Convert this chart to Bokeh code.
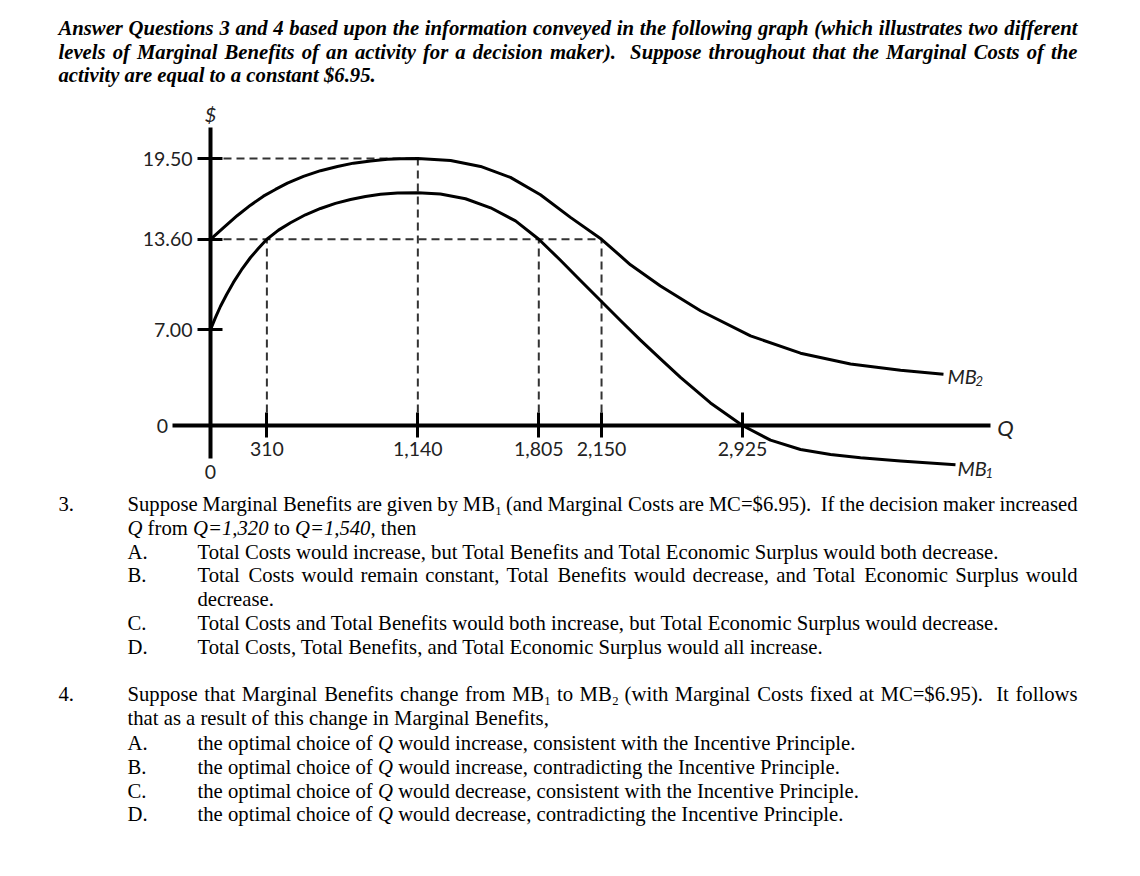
from bokeh.plotting import figure
from bokeh.models import Range1d, LinearAxis, FixedTicker, NumeralTickFormatter, Label
from bokeh.embed import file_html
from bokeh.resources import INLINE

# ---------------- data ----------------
mb1_q = [0, 27, 55, 88, 126, 170, 220, 264, 310, 374, 440, 522, 605, 687, 770, 852, 935, 1028, 1140,
         1264, 1402, 1540, 1677, 1805, 1924, 2034, 2144, 2254, 2364, 2474, 2584, 2749, 2925,
         3079, 3244, 3409, 3574, 3794, 4096]
mb1_v = [7.00, 7.88, 8.71, 9.55, 10.45, 11.36, 12.27, 12.94, 13.60, 14.27, 14.81, 15.39, 15.85,
         16.22, 16.51, 16.73, 16.89, 16.98, 17.00,
         16.91, 16.56, 15.90, 14.94, 13.60, 12.07, 10.59, 9.13, 7.67, 6.24, 4.86, 3.51, 1.65, 0.00,
         -1.07, -1.75, -2.12, -2.35, -2.59, -2.86]
mb2_q = [0, 72, 148, 220, 291, 357, 423, 511, 605, 698, 786, 880, 973, 1045, 1140,
         1320, 1485, 1649, 1814, 1979, 2150, 2309, 2474, 2694, 2969, 3244, 3519, 3794, 4030]
mb2_v = [13.60, 14.45, 15.34, 16.09, 16.75, 17.24, 17.70, 18.19, 18.61, 18.91, 19.16, 19.32, 19.44,
         19.48, 19.50,
         19.35, 18.92, 18.12, 16.85, 15.20, 13.60, 11.74, 10.19, 8.38, 6.55, 5.28, 4.49, 4.03, 3.75]
y_ticks = [7.00, 13.60, 19.50]
x_ticks = [310, 1140, 1805, 2150, 2925]
# dashed guides
guide_h_y = [19.50, 13.60]
guide_h_qend = [1140, 2150]
guide_v_q = [310, 1140, 1805, 2150]
guide_v_top = [13.60, 19.50, 13.60, 13.60]

# ---------------- geometry ----------------
W, H = 1124, 860
PAD = 0
SX = 532.0 / 2925.0      # px per unit of Q
SY = 267.0 / 19.5        # px per dollar
ORIGIN_X, ORIGIN_Y = 210, 425   # page px of the origin
q_left = -(ORIGIN_X - PAD) / SX
q_right = q_left + W / SX
v_top = (ORIGIN_Y - PAD) / SY
v_bot = v_top - H / SY


def X(px):
    return q_left + (px - PAD) / SX


def Y(py):
    return v_top - (py - PAD) / SY


p = figure(width=W, height=H, x_range=Range1d(q_left, q_right), y_range=Range1d(v_bot, v_top),
           output_backend="svg", toolbar_location=None, min_border=0,
           x_axis_type=None, y_axis_type=None)
p.outline_line_color = None
p.background_fill_color = "white"

# dashed guide lines
p.segment(x0=[0] * len(guide_h_y), y0=guide_h_y, x1=guide_h_qend, y1=guide_h_y,
          line_color="#333333", line_width=2, line_dash="8 5")
p.segment(x0=guide_v_q, y0=[0] * len(guide_v_q), x1=guide_v_q, y1=guide_v_top,
          line_color="#333333", line_width=2, line_dash="8 5")

# curves
p.line(mb2_q, mb2_v, line_color="black", line_width=3, line_join="round")
p.line(mb1_q, mb1_v, line_color="black", line_width=3, line_join="round")

# axes
AXFONT = "Lato"
AXCOL = "#222222"
yax = LinearAxis(fixed_location=0, ticker=FixedTicker(ticks=y_ticks),
                 formatter=NumeralTickFormatter(format="0.00"),
                 bounds=(Y(458), Y(127)),
                 axis_line_width=4, axis_line_color="black",
                 major_tick_line_width=3, major_tick_in=12, major_tick_out=13,
                 minor_tick_line_color=None, major_label_standoff=5,
                 major_label_text_font=AXFONT, major_label_text_font_size="19.5px",
                 major_label_text_color=AXCOL)
p.add_layout(yax, "left")
xax = LinearAxis(fixed_location=0, ticker=FixedTicker(ticks=x_ticks),
                 formatter=NumeralTickFormatter(format="0,0"),
                 bounds=(X(172), X(990)),
                 axis_line_width=4, axis_line_color="black",
                 major_tick_line_width=3, major_tick_in=13, major_tick_out=12,
                 minor_tick_line_color=None, major_label_standoff=4,
                 major_label_text_font=AXFONT, major_label_text_font_size="19.5px",
                 major_label_text_color=AXCOL)
p.add_layout(xax, "below")

SERIF = "Liberation Serif"
FS = 20.7


def lab(px, py, text, font=SERIF, size=FS, style="normal", align="left", color="black"):
    p.add_layout(Label(x=X(px), y=Y(py), text=text, text_font=font,
                       text_font_size="%.1fpx" % size,
                       text_font_style=style, text_align=align, text_baseline="middle",
                       text_color=color))


# --- Times-compatible advance widths (1/1000 em) for placing mixed / justified text ---
REG = {' ': 250, ',': 250, '.': 250, '(': 333, ')': 333, '$': 500, '=': 564, '-': 333,
       'A': 722, 'B': 667, 'C': 667, 'D': 722, 'E': 611, 'I': 333, 'M': 889, 'P': 556, 'Q': 722,
       'S': 556, 'T': 611,
       'a': 444, 'b': 500, 'c': 444, 'd': 500, 'e': 444, 'f': 333, 'g': 500, 'h': 500, 'i': 278,
       'j': 278, 'k': 500, 'l': 278, 'm': 778, 'n': 500, 'o': 500, 'p': 500, 'q': 500, 'r': 333,
       's': 389, 't': 278, 'u': 500, 'v': 500, 'w': 722, 'x': 500, 'y': 500, 'z': 444,
       '\u2081': 300, '\u2082': 300}
ITA = {'Q': 722, '=': 675, ',': 250, ' ': 250}
BI = {' ': 250, ',': 250, '.': 250, '(': 333, ')': 333, '$': 500,
      'A': 667, 'B': 667, 'C': 667, 'M': 889, 'Q': 722, 'S': 556,
      'a': 500, 'b': 500, 'c': 444, 'd': 500, 'e': 444, 'f': 333, 'g': 500, 'h': 556, 'i': 278,
      'k': 500, 'l': 278, 'm': 778, 'n': 556, 'o': 500, 'p': 500, 'q': 500, 'r': 389, 's': 389,
      't': 278, 'u': 556, 'v': 444, 'w': 667, 'x': 500, 'y': 444, 'z': 389}


def tw(s, table, size=FS):
    return sum(table.get(ch, 500) for ch in s) * size / 1000.0


def justified(text, x0, x1, py, style="normal", table=REG):
    """Full justification: each word placed on its justified position."""
    words = text.split(" ")
    widths = [tw(w, table) for w in words]
    gap = (x1 - x0 - sum(widths)) / (len(words) - 1)
    x = x0
    last = len(words) - 1
    for i, (w, wd) in enumerate(zip(words, widths)):
        if w:
            if i == last:
                lab(x1, py, w, style=style, align="right")
            else:
                lab(x, py, w, style=style)
        x += wd + gap


def mixed(x0, py, segments):
    x = x0
    for text, style in segments:
        table = ITA if style == "italic" else REG
        stripped = text.lstrip(" ")
        x += tw(text[:len(text) - len(stripped)], table)
        body = stripped.rstrip(" ")
        if body:
            lab(x, py, body, style=style)
        x += tw(stripped, table)


# chart annotations
lab(210, 113, "$", font=AXFONT, size=20, style="italic", align="center", color=AXCOL)
lab(162, 425, "0", font=AXFONT, size=19.5, align="center", color=AXCOL)
lab(210, 471, "0", font=AXFONT, size=19.5, align="center", color=AXCOL)
lab(1005, 427, "Q", font=AXFONT, size=22, style="italic", align="center", color=AXCOL)
lab(947, 375, "MB", font=AXFONT, size=20, style="italic", color=AXCOL)
lab(975, 380, "2", font=AXFONT, size=13, style="italic", color=AXCOL)
lab(957, 467, "MB", font=AXFONT, size=20, style="italic", color=AXCOL)
lab(985, 472, "1", font=AXFONT, size=13, style="italic", color=AXCOL)

RIGHT = 1077
# header
justified("Answer Questions 3 and 4 based upon the information conveyed in the following graph (which illustrates two different",
          58, RIGHT, 27, style="bold italic", table=BI)
justified("levels of Marginal Benefits of an activity for a decision maker).  Suppose throughout that the Marginal Costs of the",
          58, RIGHT, 51, style="bold italic", table=BI)
lab(58, 74, "activity are equal to a constant $6.95.", style="bold italic")

# question 3
lab(58, 503, "3.")
justified("Suppose Marginal Benefits are given by MB\u2081 (and Marginal Costs are MC=$6.95).  If the decision maker increased",
          127, RIGHT, 503)
mixed(127, 527, [("Q", "italic"), (" from ", "normal"), ("Q=1,320", "italic"), (" to ", "normal"),
                 ("Q=1,540", "italic"), (", then", "normal")])
lab(127, 551, "A.")
lab(197, 551, "Total Costs would increase, but Total Benefits and Total Economic Surplus would both decrease.")
lab(127, 574, "B.")
justified("Total Costs would remain constant, Total Benefits would decrease, and Total Economic Surplus would",
          197, RIGHT, 574)
lab(197, 598, "decrease.")
lab(127, 622, "C.")
lab(197, 622, "Total Costs and Total Benefits would both increase, but Total Economic Surplus would decrease.")
lab(127, 646, "D.")
lab(197, 646, "Total Costs, Total Benefits, and Total Economic Surplus would all increase.")

# question 4
lab(58, 693, "4.")
justified("Suppose that Marginal Benefits change from MB\u2081 to MB\u2082 (with Marginal Costs fixed at MC=$6.95).  It follows",
          127, RIGHT, 693)
lab(127, 717, "that as a result of this change in Marginal Benefits,")
opts = [("A.", 742, " would increase, consistent with the Incentive Principle."),
        ("B.", 766, " would increase, contradicting the Incentive Principle."),
        ("C.", 790, " would decrease, consistent with the Incentive Principle."),
        ("D.", 813, " would decrease, contradicting the Incentive Principle.")]
for letter, yy, rest in opts:
    lab(127, yy, letter)
    mixed(197, yy, [("the optimal choice of ", "normal"), ("Q", "italic"), (rest, "normal")])

open("out.html", "w").write(file_html(p, INLINE))
